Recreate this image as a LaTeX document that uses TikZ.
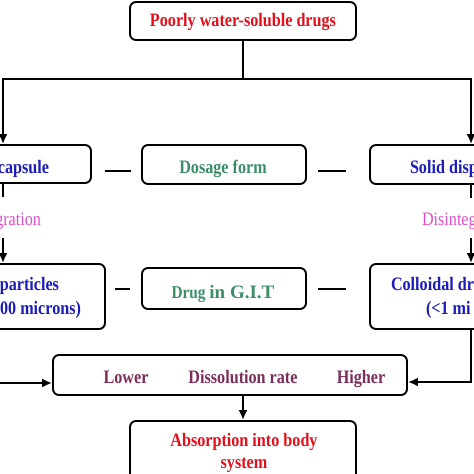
\documentclass[tikz,border=0pt]{standalone}
\usepackage{fontspec}
\setmainfont[FakeStretch=0.85]{Liberation Serif}
\newfontfamily\plainserif{Liberation Serif}
\usetikzlibrary{arrows.meta,calc,positioning}
\definecolor{cRed}{HTML}{E3101C}
\definecolor{cBlue}{HTML}{1C1CB8}
\definecolor{cGreen}{HTML}{3C8E66}
\definecolor{cPink}{HTML}{E04FC8}
\definecolor{cPlum}{HTML}{7D2E58}
\tikzset{
  flowA/.style={
    font=\bfseries\fontsize{19}{22}\selectfont,
    >={Latex[length=10pt, width=9pt]},
    line cap=butt, line join=miter,
    line width=1.9pt,
  },
  box/.style={
    draw=black, line width=1.9pt, rounded corners=6pt,
    fill=white, align=center, inner sep=0pt,
  },
  txt/.style={inner sep=0pt, outer sep=0pt},
  txtRed/.style={txt, text=cRed},
  txtGreen/.style={txt, text=cGreen},
  lblBlue/.style={txt, text=cBlue},
  lblPink/.style={txt, text=cPink, font=\mdseries\fontsize{19}{22}\selectfont},
  lblPlum/.style={txt, text=cPlum},
  dashBar/.style={line width=1.9pt},
}
\begin{document}
\begin{tikzpicture}[flowA, x=1pt, y=-1pt]
\useasboundingbox (0,0) rectangle (474,474);
\clip (0,0) rectangle (474,474);

% ============================================================
% Top: the starting box and its split into two branches
% ============================================================
\node[box, minimum width=226, minimum height=38] (drugTop) at (243,21) {};
\node[txtRed, anchor=base] (drugTxt) at (243,26) {Poorly water-soluble drugs};

\coordinate (splitY) at (243,79);

% ============================================================
% Row 2: dosage forms
% ============================================================
\node[box, minimum width=176, minimum height=38] (capBox) at (3,164) {};
\node[lblBlue, anchor=base east] (capTxt) at (49,173) {capsule};

\node[box, minimum width=164, minimum height=39] (doseBox) at (224,164.5) {};
\node[txtGreen, anchor=base] (doseTxt) at (223,173) {Dosage form};

\node[box, minimum width=202, minimum height=39] (solidBox) at (471,164.5) {};
\node[lblBlue, anchor=base west] (solidTxt) at (410,173) {Solid disp};

\draw[dashBar] (capBox.east) ++(13,7) -- ++(26,0);
\draw[dashBar] (doseBox.east) ++(11,6.5) -- ++(28,0);

\draw (drugTop.south) -- (splitY);
\draw[->] (splitY) -| (capBox.north);
\draw[->] (splitY) -| (solidBox.north);

% Disintegration labels sit in a gap of the vertical lines
\coordinate (disL) at (3,225);
\node[lblPink, anchor=base east] (disLTxt) at (41,225) {gration};
\node[lblPink, anchor=base west] (disRTxt) at (422,225) {Disinteg};

% ============================================================
% Row 3: particles in the G.I.T
% ============================================================
\node[box, minimum width=204, minimum height=65] (partBox) at (3,296.5) {};
\node[lblBlue, anchor=base east] (partTxtA) at (59,290) {particles};
\node[lblBlue, anchor=base east] (partTxtB) at (81,314) {00 microns)};

\node[box, minimum width=164, minimum height=41] (gitBox) at (224,288.5) {};
\node[txtGreen, anchor=base] (gitTxt) at (223,298)
  {\fontsize{18}{22}\selectfont Drug {\plainserif\fontsize{19}{22}\selectfont in G.I.T}};

\node[box, minimum width=202, minimum height=65] (collBox) at (471,296.5) {};
\node[lblBlue, anchor=base west] (collTxtA) at (391,290) {Colloidal dr};
\node[lblBlue, anchor=base west] (collTxtB) at (426,314) {(<1 mi};

\draw[dashBar] (gitBox.west) ++(-26,0.5) -- ++(15,0);
\draw[dashBar] (gitBox.east) ++(11,0.5) -- ++(28,0);

\draw (capBox.south) -- ++(0,13);
\draw[->] (capBox.south) ++(0,54) -- (partBox.north);
\draw (solidBox.south) -- ++(0,13);
\draw[->] (solidBox.south) ++(0,53) -- (collBox.north);

% ============================================================
% Row 4: dissolution rate scale
% ============================================================
\node[box, minimum width=354, minimum height=40] (dissBox) at (230,375) {};
\node[lblPlum, anchor=base] (lowTxt)  at (126,383) {Lower};
\node[lblPlum, anchor=base] (dissTxt) at (243,383) {Dissolution rate};
\node[lblPlum, anchor=base] (highTxt) at (361,383) {Higher};

\coordinate (feedL) at (-20,383);
\draw[->] (feedL) -- (feedL -| dissBox.west);
\draw[->] (collBox.south) |- ($(dissBox.east)+(0,7)$);

% ============================================================
% Bottom: absorption
% ============================================================
\node[box, minimum width=226, minimum height=64] (absBox) at (243,453) {};
\node[txtRed, anchor=base] (absTxtA) at (244,446) {Absorption into body};
\node[txtRed, anchor=base] (absTxtB) at (244,468) {system};

\draw[->] (dissBox.south -| absBox.north) -- (absBox.north);

\end{tikzpicture}
\end{document}
